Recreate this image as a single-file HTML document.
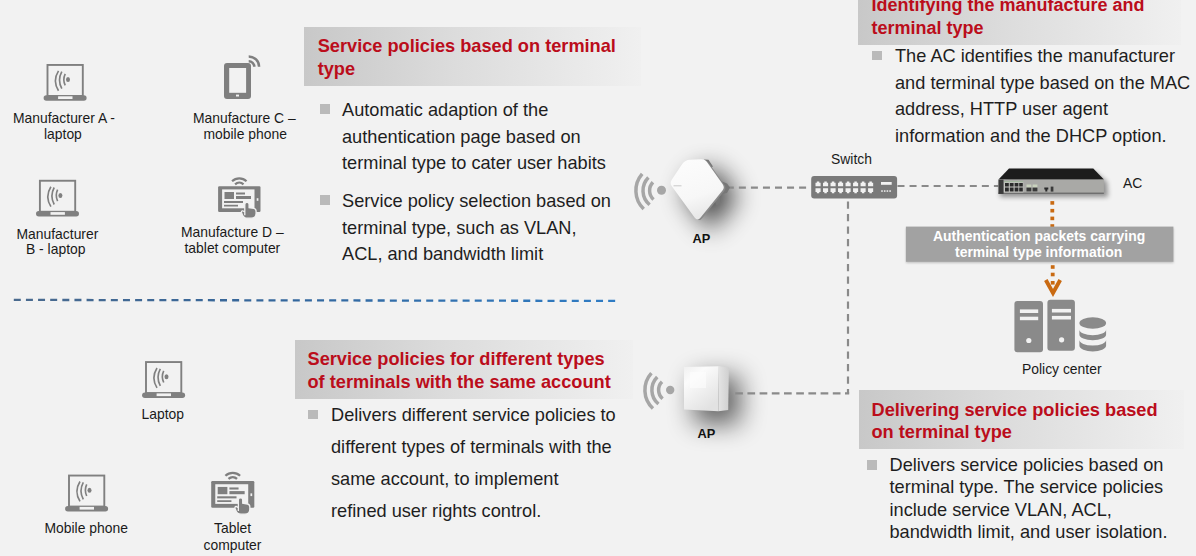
<!DOCTYPE html>
<html><head><meta charset="utf-8">
<style>
html,body{margin:0;padding:0;}
body{width:1196px;height:556px;overflow:hidden;background:#f2f2f2;position:relative;font-family:"Liberation Sans",sans-serif;color:#1a1a1a;}
.a{position:absolute;white-space:nowrap;}
.hdr{position:absolute;background:linear-gradient(90deg,#c8c8c8 0%,#dcdcdc 45%,#f0f0f0 100%);}
.ht{position:absolute;white-space:nowrap;font-weight:bold;font-size:18.2px;line-height:22.4px;color:#bb0d1b;}
.bt{position:absolute;white-space:nowrap;font-size:18.2px;color:#1e1e1e;}
.sq{position:absolute;width:10px;height:9.6px;background:#bababa;}
.lb{position:absolute;white-space:nowrap;font-size:13.7px;line-height:16.5px;text-align:center;color:#1a1a1a;}
.ln{position:absolute;white-space:nowrap;line-height:1;}
.bl{display:inline-block;width:0;height:0;}
svg{position:absolute;left:0;top:0;overflow:visible;}
</style></head><body>
<!-- Graphics -->
<svg width="1196" height="556" viewBox="0 0 1196 556">
<defs>
<linearGradient id="blu" x1="0" x2="1" y1="0" y2="0"><stop offset="0" stop-color="#4a6a8e"/><stop offset="0.45" stop-color="#33669c"/><stop offset="1" stop-color="#2f7cc4"/></linearGradient>
<filter id="blur10" x="-150%" y="-150%" width="400%" height="400%"><feGaussianBlur stdDeviation="10"/></filter>
<filter id="blur13" x="-150%" y="-150%" width="400%" height="400%"><feGaussianBlur stdDeviation="13"/></filter>
<filter id="blur6" x="-150%" y="-150%" width="400%" height="400%"><feGaussianBlur stdDeviation="6"/></filter>
<filter id="blur3" x="-50%" y="-50%" width="200%" height="200%"><feGaussianBlur stdDeviation="2.5"/></filter>
<filter id="blur2" x="-50%" y="-50%" width="200%" height="200%"><feGaussianBlur stdDeviation="1.2"/></filter>
<filter id="blur1" x="-50%" y="-50%" width="200%" height="200%"><feGaussianBlur stdDeviation="0.6"/></filter>
<linearGradient id="apg" x1="0" y1="0" x2="0.3" y2="1"><stop offset="0" stop-color="#fdfdfd"/><stop offset="0.7" stop-color="#f7f7f7"/><stop offset="1" stop-color="#e9e9e9"/></linearGradient>
<linearGradient id="ap2f" x1="0" y1="0" x2="0.6" y2="1"><stop offset="0" stop-color="#f0f0f0"/><stop offset="0.3" stop-color="#fbfbfb"/><stop offset="1" stop-color="#e2e2e2"/></linearGradient>
<linearGradient id="ap2s" x1="0" y1="0" x2="1" y2="0"><stop offset="0" stop-color="#e4e4e4"/><stop offset="1" stop-color="#d0d0d0"/></linearGradient>
<radialGradient id="shd" cx="0.5" cy="0.5" r="0.5"><stop offset="0" stop-color="#000" stop-opacity="0.55"/><stop offset="0.5" stop-color="#000" stop-opacity="0.25"/><stop offset="1" stop-color="#000" stop-opacity="0"/></radialGradient>
<symbol id="lap" viewBox="0 0 44 37" overflow="visible">
<rect x="3.9" y="0.95" width="35.3" height="31" fill="none" stroke="#808080" stroke-width="1.9"/>
<rect x="0" y="31.3" width="43" height="5.5" rx="2.75" fill="#808080"/>
<rect x="14.5" y="32.3" width="14.4" height="2.7" fill="#f2f2f2"/>
<ellipse cx="24.4" cy="15.6" rx="2" ry="2.5" fill="#808080"/>
<path d="M21.6,9.8Q18.9,15.6 21.6,21.4M18.2,7.7Q13.6,16.2 18.2,24.7M14.9,6.9Q8.7,16.85 14.9,26.8" fill="none" stroke="#808080" stroke-width="1.65"/>
</symbol>
<symbol id="tab" viewBox="0 -10 43 42" overflow="visible">
<rect x="0" y="0" width="42.4" height="25.7" rx="1.2" fill="#7f7f7f"/>
<rect x="4" y="3.2" width="32.4" height="18.9" fill="#f2f2f2"/>
<rect x="38.6" y="12" width="1.7" height="2.6" fill="#f2f2f2"/>
<rect x="6.4" y="5.8" width="9.5" height="7" fill="#7f7f7f"/>
<rect x="17.9" y="6.3" width="9" height="2" fill="#7f7f7f"/>
<rect x="17.9" y="9.8" width="15" height="3" fill="#7f7f7f"/>
<rect x="5.9" y="14.8" width="19" height="2" fill="#7f7f7f"/>
<rect x="5.9" y="18.6" width="14" height="1.7" fill="#7f7f7f"/>
<path d="M16.98,-1.88A6.30,6.30 0 0 1 25.42,-1.88M13.97,-4.95A10.60,10.60 0 0 1 28.43,-4.95" fill="none" stroke="#7f7f7f" stroke-width="2.2"/>
<path d="M26.7,29 L26.7,18.2 Q26.7,16.2 28.85,16.2 Q31,16.2 31,18.2 L31,21.5 L35.8,22.2 Q38,22.6 38,25.2 L38,27.3 Q38,32 33.2,32 L29.2,32 Q25.5,32 24.2,28.5 L23.4,26.2 Q23.2,24.4 24.6,24.6 L26.7,25.8Z" fill="#7f7f7f" stroke="#f2f2f2" stroke-width="1.3"/>
</symbol>
</defs>

<path d="M694.67,174.79Q698.00,169.80 704.00,169.62L712.00,169.38Q718.00,169.20 721.46,174.10L734.54,192.60Q738.00,197.50 734.23,202.17L714.27,226.83Q710.50,231.50 706.97,226.65L686.03,197.85Q682.50,193.00 685.83,188.01Z" fill="#000" opacity="0.7" filter="url(#blur13)"/>
<path d="M694,376L740,376L740,424L694,424Z" fill="#000" opacity="0.6" filter="url(#blur13)"/>
<path d="M13.8,299.9L615.3,300.9" stroke="url(#blu)" stroke-width="2.3" stroke-dasharray="7 5.13" fill="none"/>
<g fill="none" stroke="#8a8a8a" stroke-width="2.2">
<path d="M726.8,187.6L811,187.6" stroke-dasharray="7 5.05"/>
<path d="M897.5,186L998.4,186" stroke-dasharray="7 5.05"/>
<path d="M848,201.5L848,393.3" stroke-dasharray="7.2 5.3"/>
<path d="M735.2,393.3L849.2,393.3" stroke-dasharray="7.7 4.5"/>
</g>
<rect x="811.2" y="176" width="85.9" height="22.5" rx="3" fill="#7a7a7a"/>
<path d="M815.50,182.8h5.1v3.4h-5.1zM816.80,181.6h2.5v1.3h-2.5z" fill="#f2f2f2"/>
<path d="M815.50,188.3h5.1v3.6h-5.1zM816.80,191.8h2.5v1.4h-2.5z" fill="#f2f2f2"/>
<path d="M823.01,182.8h5.1v3.4h-5.1zM824.31,181.6h2.5v1.3h-2.5z" fill="#f2f2f2"/>
<path d="M823.01,188.3h5.1v3.6h-5.1zM824.31,191.8h2.5v1.4h-2.5z" fill="#f2f2f2"/>
<path d="M830.52,182.8h5.1v3.4h-5.1zM831.82,181.6h2.5v1.3h-2.5z" fill="#f2f2f2"/>
<path d="M830.52,188.3h5.1v3.6h-5.1zM831.82,191.8h2.5v1.4h-2.5z" fill="#f2f2f2"/>
<path d="M838.03,182.8h5.1v3.4h-5.1zM839.33,181.6h2.5v1.3h-2.5z" fill="#f2f2f2"/>
<path d="M838.03,188.3h5.1v3.6h-5.1zM839.33,191.8h2.5v1.4h-2.5z" fill="#f2f2f2"/>
<path d="M845.54,182.8h5.1v3.4h-5.1zM846.84,181.6h2.5v1.3h-2.5z" fill="#f2f2f2"/>
<path d="M845.54,188.3h5.1v3.6h-5.1zM846.84,191.8h2.5v1.4h-2.5z" fill="#f2f2f2"/>
<path d="M853.05,182.8h5.1v3.4h-5.1zM854.35,181.6h2.5v1.3h-2.5z" fill="#f2f2f2"/>
<path d="M853.05,188.3h5.1v3.6h-5.1zM854.35,191.8h2.5v1.4h-2.5z" fill="#f2f2f2"/>
<path d="M860.56,182.8h5.1v3.4h-5.1zM861.86,181.6h2.5v1.3h-2.5z" fill="#f2f2f2"/>
<path d="M860.56,188.3h5.1v3.6h-5.1zM861.86,191.8h2.5v1.4h-2.5z" fill="#f2f2f2"/>
<path d="M868.07,182.8h5.1v3.4h-5.1zM869.37,181.6h2.5v1.3h-2.5z" fill="#f2f2f2"/>
<path d="M868.07,188.3h5.1v3.6h-5.1zM869.37,191.8h2.5v1.4h-2.5z" fill="#f2f2f2"/>
<rect x="881" y="182" width="10.7" height="2.8" fill="#f2f2f2"/>
<rect x="881.2" y="190.3" width="1.6" height="1.5" fill="#f2f2f2"/>
<rect x="883.9" y="190.3" width="1.6" height="1.5" fill="#f2f2f2"/>
<rect x="886.6" y="190.3" width="1.6" height="1.5" fill="#f2f2f2"/>
<rect x="889.3" y="190.3" width="1.6" height="1.5" fill="#f2f2f2"/>
<path d="M1011,172L1095,172L1107,182L1108,197L1000,197L1000,184Z" fill="#000" opacity="0.4" filter="url(#blur3)"/>
<path d="M1009,168.5L1093.3,168.5L1103.9,179.6L998.5,179.6Z" fill="#1c1c1c"/>
<rect x="998.5" y="179.6" width="105.4" height="14.3" fill="#a9a9a6"/>
<rect x="998.5" y="192.6" width="105.4" height="1.3" fill="#6a6a6a"/>
<rect x="998.5" y="179.6" width="5" height="14.3" fill="#3a3a3a"/>
<rect x="1004" y="181.5" width="19.3" height="11" fill="#c4c4c0"/>
<rect x="1004" y="181.2" width="19.3" height="1" fill="#9fb59a"/>
<path d="M1005,183h3.8v3.6h-3.8zM1009.8,183h3.8v3.6h-3.8zM1014.6,183h3.8v3.6h-3.8zM1019.2,183h3.6v3.6h-3.6zM1005,187.6h3.8v3.8h-3.8zM1009.8,187.6h3.8v3.8h-3.8zM1014.6,187.6h3.8v3.8h-3.8zM1019.2,187.6h3.6v3.8h-3.6z" fill="#2a2a2a"/>
<rect x="1026.5" y="184.5" width="4.8" height="3" fill="#c9d2bd"/>
<rect x="1032.6" y="184.5" width="4.8" height="3" fill="#c9d2bd"/>
<rect x="1026.5" y="187.6" width="4.8" height="3.8" fill="#3a3a3a"/>
<rect x="1032.6" y="187.6" width="4.8" height="3.8" fill="#3a3a3a"/>
<path d="M1044.3,187.5h4v2h-1v2h-2v-2h-1z" fill="#2a2a2a"/>
<rect x="1050.7" y="186.6" width="2.7" height="5" fill="#3a3a3a"/>

<rect x="1050.4" y="201.1" width="3.8" height="3.6" fill="#c96a12"/>
<rect x="1050.4" y="208.9" width="3.8" height="3.6" fill="#c96a12"/>
<rect x="1050.4" y="216.6" width="3.8" height="3.6" fill="#c96a12"/>
<rect x="1050.4" y="224.2" width="3.8" height="3.6" fill="#c96a12"/>
<rect x="1050.8" y="265.2" width="3.8" height="3.6" fill="#c96a12"/>
<rect x="1050.8" y="272.7" width="3.8" height="3.6" fill="#c96a12"/>
<rect x="1050.8" y="281" width="3.8" height="3.6" fill="#c96a12"/>
<path d="M1045.8,280L1053,293L1060.2,280" fill="none" stroke="#c96a12" stroke-width="3.9" stroke-linejoin="miter"/>
<rect x="906" y="228" width="267.5" height="35" fill="#666" opacity="0.35" filter="url(#blur2)"/>
<rect x="905.9" y="226.6" width="267.5" height="35.2" fill="#a2a2a2"/>
<g fill="#8a8a8a">
<rect x="1014.4" y="301" width="28.6" height="51.3" rx="3"/>
<rect x="1047.4" y="299.7" width="27.5" height="51" rx="3"/>
<ellipse cx="1092.75" cy="323" rx="13.35" ry="5.8"/>
<path d="M1079.4,329.4A13.35,5.8 0 0 0 1106.1,329.4L1106.1,334.4A13.35,5.8 0 0 1 1079.4,334.4Z"/>
<path d="M1079.4,339.8A13.35,5.8 0 0 0 1106.1,339.8L1106.1,345.6A13.35,5.8 0 0 1 1079.4,345.6Z"/>
</g>
<g fill="#f2f2f2">
<rect x="1019.9" y="309.4" width="18.3" height="3.6"/>
<rect x="1019.9" y="316.7" width="18.3" height="3.5"/>
<circle cx="1028.8" cy="340.5" r="2.6"/>
<rect x="1051.9" y="308.9" width="19.1" height="3.6"/>
<rect x="1051.9" y="315.9" width="19.1" height="3.6"/>
<circle cx="1061.6" cy="339.8" r="2.6"/>
</g>
<use href="#lap" x="43.6" y="64" width="44" height="37"/>
<use href="#lap" x="36" y="179.8" width="44" height="37"/>
<use href="#lap" x="142.1" y="361.1" width="44" height="37"/>
<use href="#lap" x="65.1" y="474.6" width="44" height="37"/>
<rect x="224" y="63.1" width="27" height="35.8" rx="3" fill="#7f7f7f"/>
<rect x="229.2" y="68" width="16.9" height="24.8" fill="#f2f2f2"/>
<rect x="236" y="94.6" width="3" height="1.9" fill="#f2f2f2"/>
<path d="M248.70,61.20A5.60,5.60 0 0 1 254.30,66.80M248.70,56.40A10.40,10.40 0 0 1 259.10,66.80" fill="none" stroke="#7f7f7f" stroke-width="2.5"/>
<g transform="translate(218.1,186.2)"><use href="#tab" x="0" y="-10" width="43" height="42"/></g>
<g transform="translate(211.2,480.9) scale(1.017,1.04)"><use href="#tab" x="0" y="-10" width="43" height="42"/></g>
<path d="M704,159.5L708.5,159.8L713,166.5L710,168ZM716,179L727,183.5L730,187.6L727,193L718,195ZM714,199L720,197.5L720,204L716.5,205.5Z" fill="#777" filter="url(#blur1)"/>
<path d="M684.38,163.73Q686.60,160.40 690.60,160.28L702.60,159.92Q706.60,159.80 708.91,163.07L724.29,184.83Q726.60,188.10 724.08,191.21L702.24,218.21Q699.10,222.10 696.16,218.06L673.45,186.83Q671.10,183.60 673.32,180.27Z" fill="#8a8a8a" filter="url(#blur1)"/>
<path d="M682.22,163.96Q685.00,159.80 690.00,159.65L701.00,159.32Q705.00,159.20 707.31,162.47L722.69,184.23Q725.00,187.50 722.48,190.61L700.64,217.61Q697.50,221.50 694.56,217.46L671.85,186.23Q669.50,183.00 671.72,179.67Z" fill="url(#apg)"/>
<path d="M673.5,185.8h8" stroke="#c4c4c4" stroke-width="0.9"/>
<circle cx="661.5" cy="190.3" r="4.5" fill="#a6a6a6"/>
<path d="M652.94,182.33A11.90,11.90 0 0 0 653.54,199.44M648.42,177.52A18.50,18.50 0 0 0 649.61,204.77M642.18,173.80A25.60,25.60 0 0 0 643.72,209.02" fill="none" stroke="#a6a6a6" stroke-width="3.5"/>
<path d="M718.4,366L728.9,367.5L728.2,410L718.4,411.3Z" fill="url(#ap2s)"/>
<path d="M684,367.1L718.4,366.3L718.4,411.3L684,409.5Z" fill="url(#ap2f)"/>
<path d="M690,372h16v16h-16z" fill="#fefefe" opacity="0.6" filter="url(#blur1)"/>
<circle cx="670.2" cy="390" r="4.2" fill="#a6a6a6"/>
<path d="M662.00,381.80A11.60,11.60 0 0 0 662.59,398.75M657.26,377.06A18.30,18.30 0 0 0 658.44,404.02M651.40,373.07A25.30,25.30 0 0 0 652.95,408.50" fill="none" stroke="#a6a6a6" stroke-width="3.5"/>
</svg>
<!-- /Graphics -->

<!-- Header boxes -->
<div class="hdr" style="left:304px;top:27px;width:337px;height:59px;"></div>
<div class="ht" style="left:317.7px;top:35.2px;">Service policies based on terminal<br>type</div>

<div class="hdr" style="left:858px;top:-16px;width:323px;height:61px;"></div>
<div class="ht" style="left:871.5px;top:-5.9px;font-size:18px;line-height:22.6px;">Identifying the manufacture and<br>terminal type</div>

<div class="hdr" style="left:294.5px;top:340px;width:338px;height:59px;"></div>
<div class="ht" style="left:307.5px;top:348px;line-height:22.6px;">Service policies for different types<br>of terminals with the same account</div>

<div class="hdr" style="left:859px;top:390px;width:325px;height:59px;"></div>
<div class="ht" style="left:871.5px;top:398.9px;line-height:22.1px;">Delivering service policies based<br>on terminal type</div>

<!-- Bullets -->
<div class="sq" style="left:320px;top:104px;"></div>
<div class="bt" style="left:342px;top:96.8px;line-height:26.7px;">Automatic adaption of the<br>authentication page based on<br>terminal type to cater user habits</div>
<div class="sq" style="left:320px;top:195px;"></div>
<div class="bt" style="left:342px;top:187.9px;line-height:26.7px;">Service policy selection based on<br>terminal type, such as VLAN,<br>ACL, and bandwidth limit</div>

<div class="sq" style="left:872.3px;top:50.8px;"></div>
<div class="bt" style="left:895px;top:43.3px;line-height:26.5px;">The AC identifies the manufacturer<br>and terminal type based on the MAC<br>address, HTTP user agent<br>information and the DHCP option.</div>

<div class="sq" style="left:308px;top:409.5px;"></div>
<div class="bt" style="left:331px;top:399.1px;line-height:32px;">Delivers different service policies to<br>different types of terminals with the<br>same account, to implement<br>refined user rights control.</div>

<div class="sq" style="left:867px;top:460px;"></div>
<div class="bt" style="left:889.5px;top:453.6px;line-height:22.47px;">Delivers service policies based on<br>terminal type. The service policies<br>include service VLAN, ACL,<br>bandwidth limit, and user isolation.</div>

<!-- Labels -->
<div class="ln" style="left:13.00px;top:111.81px;font-size:13.90px;font-weight:normal;color:#1a1a1a;">Manufacturer A -<span class="bl"></span></div>
<div class="ln" style="left:44.00px;top:127.61px;font-size:13.90px;font-weight:normal;color:#1a1a1a;">laptop<span class="bl"></span></div>
<div class="ln" style="left:193.00px;top:112.00px;font-size:13.90px;font-weight:normal;color:#1a1a1a;">Manufacture C –<span class="bl"></span></div>
<div class="ln" style="left:203.50px;top:127.91px;font-size:13.90px;font-weight:normal;color:#1a1a1a;">mobile phone<span class="bl"></span></div>
<div class="ln" style="left:16.50px;top:228.11px;font-size:13.90px;font-weight:normal;color:#1a1a1a;">Manufacturer<span class="bl"></span></div>
<div class="ln" style="left:26.00px;top:243.00px;font-size:13.90px;font-weight:normal;color:#1a1a1a;">B - laptop<span class="bl"></span></div>
<div class="ln" style="left:181.00px;top:226.11px;font-size:13.90px;font-weight:normal;color:#1a1a1a;">Manufacture D –<span class="bl"></span></div>
<div class="ln" style="left:184.50px;top:241.91px;font-size:13.90px;font-weight:normal;color:#1a1a1a;">tablet computer<span class="bl"></span></div>
<div class="ln" style="left:141.50px;top:408.31px;font-size:13.90px;font-weight:normal;color:#1a1a1a;">Laptop<span class="bl"></span></div>
<div class="ln" style="left:44.50px;top:522.20px;font-size:13.90px;font-weight:normal;color:#1a1a1a;">Mobile phone<span class="bl"></span></div>
<div class="ln" style="left:214.00px;top:521.70px;font-size:13.90px;font-weight:normal;color:#1a1a1a;">Tablet<span class="bl"></span></div>
<div class="ln" style="left:203.50px;top:538.91px;font-size:13.90px;font-weight:normal;color:#1a1a1a;">computer<span class="bl"></span></div>
<div class="ln" style="left:831.00px;top:152.81px;font-size:13.90px;font-weight:normal;color:#1a1a1a;">Switch<span class="bl"></span></div>
<div class="ln" style="left:1123.00px;top:177.11px;font-size:13.90px;font-weight:normal;color:#1a1a1a;">AC<span class="bl"></span></div>
<div class="ln" style="left:1022.00px;top:363.11px;font-size:13.90px;font-weight:normal;color:#1a1a1a;">Policy center<span class="bl"></span></div>
<div class="ln" style="left:692.50px;top:232.70px;font-size:12.80px;font-weight:bold;color:#111;">AP<span class="bl"></span></div>
<div class="ln" style="left:697.50px;top:428.41px;font-size:12.80px;font-weight:bold;color:#111;">AP<span class="bl"></span></div>
<div class="ln" style="left:933.00px;top:229.50px;font-size:13.95px;font-weight:bold;color:#fff;">Authentication packets carrying<span class="bl"></span></div>
<div class="ln" style="left:955.00px;top:246.41px;font-size:13.95px;font-weight:bold;color:#fff;">terminal type information<span class="bl"></span></div>
<!-- /Labels -->
</body></html>
